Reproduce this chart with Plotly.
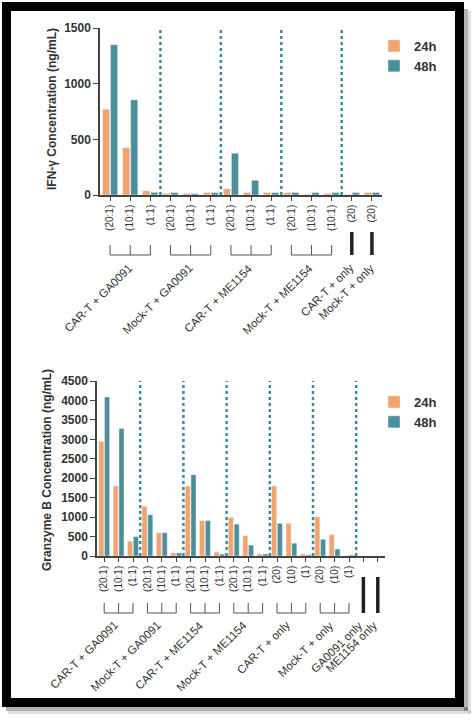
import plotly.graph_objects as go

W, H = 474, 721

# ---------------- data ----------------
ifn_labels = ["(20:1)", "(10:1)", "(1:1)", "(20:1)", "(10:1)", "(1:1)", "(20:1)",
              "(10:1)", "(1:1)", "(20:1)", "(10:1)", "(10:1)", "(20)", "(20)"]
ifn_24h = [770, 425, 38, 14, 14, 22, 55, 22, 22, 22, 5, 14, 3, 22]
ifn_48h = [1350, 855, 24, 22, 12, 22, 375, 132, 22, 22, 22, 22, 22, 22]
ifn_groups = ["CAR-T + GA0091", "Mock-T + GA0091", "CAR-T + ME1154",
              "Mock-T + ME1154", "CAR-T + only", "Mock-T + only"]
ifn_members = [[0, 1, 2], [3, 4, 5], [6, 7, 8], [9, 10, 11], [12], [13]]
ifn_dividers = [2.5, 5.5, 8.5, 11.5]

gzb_labels = ["(20:1)", "(10:1)", "(1:1)"] * 4 + ["(20)", "(10)", "(1)"] * 2 + ["", ""]
gzb_24h = [2950, 1800, 380, 1280, 600, 80, 1800, 910, 100, 990, 520, 50,
           1800, 840, 50, 1010, 550, 0, -80, 0]
gzb_48h = [4090, 3280, 500, 1060, 600, 80, 2090, 910, 50, 820, 280, 50,
           840, 330, 30, 430, 180, 25, -30, -30]
gzb_groups = ["CAR-T + GA0091", "Mock-T + GA0091", "CAR-T + ME1154", "Mock-T + ME1154",
              "CAR-T + only", "Mock-T + only", "GA0091 only", "ME1154 only"]
gzb_members = [[0, 1, 2], [3, 4, 5], [6, 7, 8], [9, 10, 11], [12, 13, 14],
               [15, 16, 17], [18], [19]]
gzb_dividers = [2.5, 5.5, 8.5, 11.5, 14.5, 17.5]

ORANGE = "#F3A46C"
TEAL = "#4A8F9A"
DOT = "#3E8C98"
TXT = "#333333"
AX = "#444444"
FONT = "Liberation Sans, Arial, sans-serif"


def px(x):
    return x / W


def py(y):
    return 1 - y / H


fig = go.Figure()
ifn_x = list(range(len(ifn_labels)))
gzb_x = list(range(len(gzb_labels)))

fig.add_trace(go.Bar(x=ifn_x, y=ifn_24h, name="24h", marker_color=ORANGE,
                     xaxis="x", yaxis="y", legend="legend", cliponaxis=False))
fig.add_trace(go.Bar(x=ifn_x, y=ifn_48h, name="48h", marker_color=TEAL,
                     xaxis="x", yaxis="y", legend="legend", cliponaxis=False))
fig.add_trace(go.Bar(x=gzb_x, y=gzb_24h, name="24h", marker_color=ORANGE,
                     xaxis="x2", yaxis="y2", legend="legend2", cliponaxis=False))
fig.add_trace(go.Bar(x=gzb_x, y=gzb_48h, name="48h", marker_color=TEAL,
                     xaxis="x2", yaxis="y2", legend="legend2", cliponaxis=False))

shapes = []
annotations = []


def prect(x0, y0, x1, y1, color):
    shapes.append(dict(type="rect", xref="paper", yref="paper", x0=px(x0), x1=px(x1),
                       y0=py(y1), y1=py(y0), fillcolor=color, line_width=0, layer="above"))


# frame with soft shadow
prect(464, 9, 468, 711, "rgba(0,0,0,0.30)")
prect(468, 11, 471, 713, "rgba(0,0,0,0.12)")
prect(6, 707, 468, 711, "rgba(0,0,0,0.30)")
prect(8, 711, 471, 714, "rgba(0,0,0,0.12)")
prect(2, 2, 464, 11, "black")
prect(2, 698, 464, 707, "black")
prect(2, 2, 11, 707, "black")
prect(455, 2, 464, 707, "black")


def add_groups(xref, groups, members, tick_top, tick_bot, bar_top, label_y, shift):
    for name, mem in zip(groups, members):
        if len(mem) > 1:
            for m in mem:
                shapes.append(dict(type="line", xref=xref, yref="paper", x0=m, x1=m,
                                   y0=py(tick_top), y1=py(tick_bot),
                                   line=dict(color="#555555", width=1)))
            shapes.append(dict(type="line", xref=xref, yref="paper", x0=mem[0], x1=mem[-1],
                               y0=py(tick_bot), y1=py(tick_bot),
                               line=dict(color="#555555", width=1)))
            center = mem[len(mem) // 2]
        else:
            m = mem[0]
            shapes.append(dict(type="line", xref=xref, yref="paper", x0=m, x1=m,
                               y0=py(bar_top), y1=py(tick_bot),
                               line=dict(color="#222222", width=3.5)))
            center = m
        annotations.append(dict(text=name, xref=xref, yref="paper", x=center, y=py(label_y),
                                xanchor="right", yanchor="top", textangle=-45,
                                showarrow=False, xshift=shift,
                                font=dict(family=FONT, size=11.5, color=TXT)))


add_groups("x", ifn_groups, ifn_members, 245, 255, 232, 259, 7)
add_groups("x2", gzb_groups, gzb_members, 603, 613, 577, 616, 4)

for d in ifn_dividers:
    shapes.append(dict(type="line", xref="x", yref="y", x0=d, x1=d, y0=0, y1=1500,
                       line=dict(color=DOT, width=2.5, dash="dot")))
for d in gzb_dividers:
    shapes.append(dict(type="line", xref="x2", yref="y2", x0=d, x1=d, y0=0, y1=4500,
                       line=dict(color=DOT, width=2.5, dash="dot")))

annotations.append(dict(text="IFN-γ Concentration (ng/mL)", xref="paper", yref="paper",
                        x=px(52), y=py(109), textangle=-90, showarrow=False,
                        xanchor="center", yanchor="middle",
                        font=dict(family=FONT, size=12, color=TXT, weight="bold")))
annotations.append(dict(text="Granzyme B Concentration (ng/mL)", xref="paper", yref="paper",
                        x=px(47), y=py(470), textangle=-90, showarrow=False,
                        xanchor="center", yanchor="middle",
                        font=dict(family=FONT, size=12, color=TXT, weight="bold")))

xcommon = dict(showline=True, linecolor=AX, linewidth=1.5, ticks="outside", ticklen=4,
               tickcolor=AX, tickwidth=1, showgrid=False, zeroline=False, tickangle=-90,
               automargin=False, tickfont=dict(family=FONT, size=10, color=TXT))
ycommon = dict(showline=True, linecolor=AX, linewidth=1.5, ticks="outside", ticklen=5,
               tickcolor=AX, tickwidth=1.2, showgrid=False, zeroline=False,
               automargin=False, tickfont=dict(family=FONT, size=12, color=TXT, weight="bold"))

fig.update_layout(
    width=W, height=H, autosize=False,
    margin=dict(l=0, r=0, t=0, b=0, pad=0),
    paper_bgcolor="white", plot_bgcolor="rgba(0,0,0,0)",
    barmode="group", bargap=0.2, bargroupgap=0.12,
    font=dict(family=FONT, color=TXT),
    xaxis=dict(domain=[px(100), px(382)], anchor="y", range=[-0.5, len(ifn_labels) - 0.5],
               tickvals=ifn_x, ticktext=ifn_labels, **xcommon),
    yaxis=dict(domain=[py(195), py(28)], anchor="x", range=[0, 1500],
               tickvals=[0, 500, 1000, 1500], **ycommon),
    xaxis2=dict(domain=[px(97), px(385)], anchor="y2", range=[-0.5, len(gzb_labels) - 0.5],
                tickvals=gzb_x, ticktext=gzb_labels, **xcommon),
    yaxis2=dict(domain=[py(556), py(381)], anchor="x2", range=[0, 4500],
                tickvals=list(range(0, 4501, 500)), **ycommon),
    legend=dict(x=px(374), y=py(31), xanchor="left", yanchor="top",
                bgcolor="rgba(0,0,0,0)", tracegroupgap=0, itemwidth=30,
                font=dict(family=FONT, size=13, color=TXT, weight="bold")),
    legend2=dict(x=px(374), y=py(387), xanchor="left", yanchor="top",
                 bgcolor="rgba(0,0,0,0)", tracegroupgap=0, itemwidth=30,
                 font=dict(family=FONT, size=13, color=TXT, weight="bold")),
    shapes=shapes,
    annotations=annotations,
    showlegend=True,
)

html_style = ("var s=document.createElement('style');"
              "s.textContent='html,body{margin:0;padding:0;overflow:hidden;background:white}';"
              "document.head.appendChild(s);")
fig.write_html("out.html", config={"displayModeBar": False}, post_script=html_style)
